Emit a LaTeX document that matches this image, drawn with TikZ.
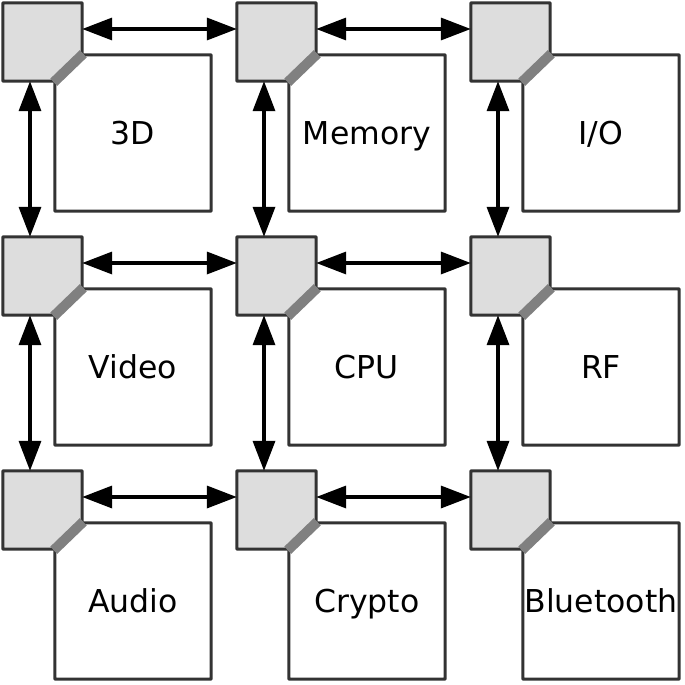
\documentclass[tikz,border=0pt]{standalone}
\usepackage{fontspec}
\setmainfont{DejaVu Sans}
\usetikzlibrary{arrows.meta,backgrounds}

\definecolor{routerfill}{HTML}{DDDDDD}
\definecolor{barcolor}{HTML}{808080}
\definecolor{edgecolor}{HTML}{333333}

\tikzset{
	router/.style={rectangle, minimum width=79pt, minimum height=78pt, inner sep=0pt},
	core/.style={rectangle, minimum size=156pt, inner sep=0pt, text height=23pt, text depth=0pt,
		font=\fontsize{31.5}{37}\selectfont},
	box/.style={draw=edgecolor, line width=3pt, line join=round},
	link/.style={line width=3.5pt, {Triangle[length=30pt,width=22pt]}-{Triangle[length=30pt,width=22pt]}},
}

\begin{document}
\begin{tikzpicture}[x=1pt,y=1pt]
	\useasboundingbox (0,0) rectangle (685,-685);

	% tiles: router + core
	\foreach \name/\txt/\c/\r in {threed/3D/0/0, memory/Memory/1/0, io/{I/O}/2/0,
		video/Video/0/1, cpu/CPU/1/1, rf/RF/2/1,
		audio/Audio/0/2, crypto/Crypto/1/2, bluetooth/Bluetooth/2/2}
	{
		\node[router] (r\c\r) at (42.5+234*\c, -42-234*\r) {};
		\node[core, anchor=north west] (\name) at ([shift={(52pt,-52pt)}]r\c\r.north west) {\txt};
		\begin{pgfonlayer}{background}
			\filldraw[box, fill=white] (\name.west |- r\c\r.south) -- (\name.south west) -- (\name.south east)
				-- (\name.north east) -- (r\c\r.east |- \name.north) -- cycle;
			\filldraw[box, fill=routerfill] (r\c\r.north west) -- (r\c\r.north east) -- (r\c\r.east |- \name.north)
				-- (\name.west |- r\c\r.south) -- (r\c\r.south west) -- cycle;
			\draw[barcolor, line width=10pt, shorten <=-1.5pt, shorten >=-1.5pt] (r\c\r.east |- \name.north) -- (\name.west |- r\c\r.south);
		\end{pgfonlayer}
	}

	% links between routers
	\foreach \r in {0,1,2}
		\foreach \c/\n in {0/1,1/2}
			\draw[link] ([yshift=13pt]r\c\r.east) -- ([yshift=13pt]r\n\r.west);
	\foreach \c in {0,1,2}
		\foreach \r/\n in {0/1,1/2}
			\draw[link] ([xshift=-12.5pt]r\c\r.south) -- ([xshift=-12.5pt]r\c\n.north);
\end{tikzpicture}
\end{document}
